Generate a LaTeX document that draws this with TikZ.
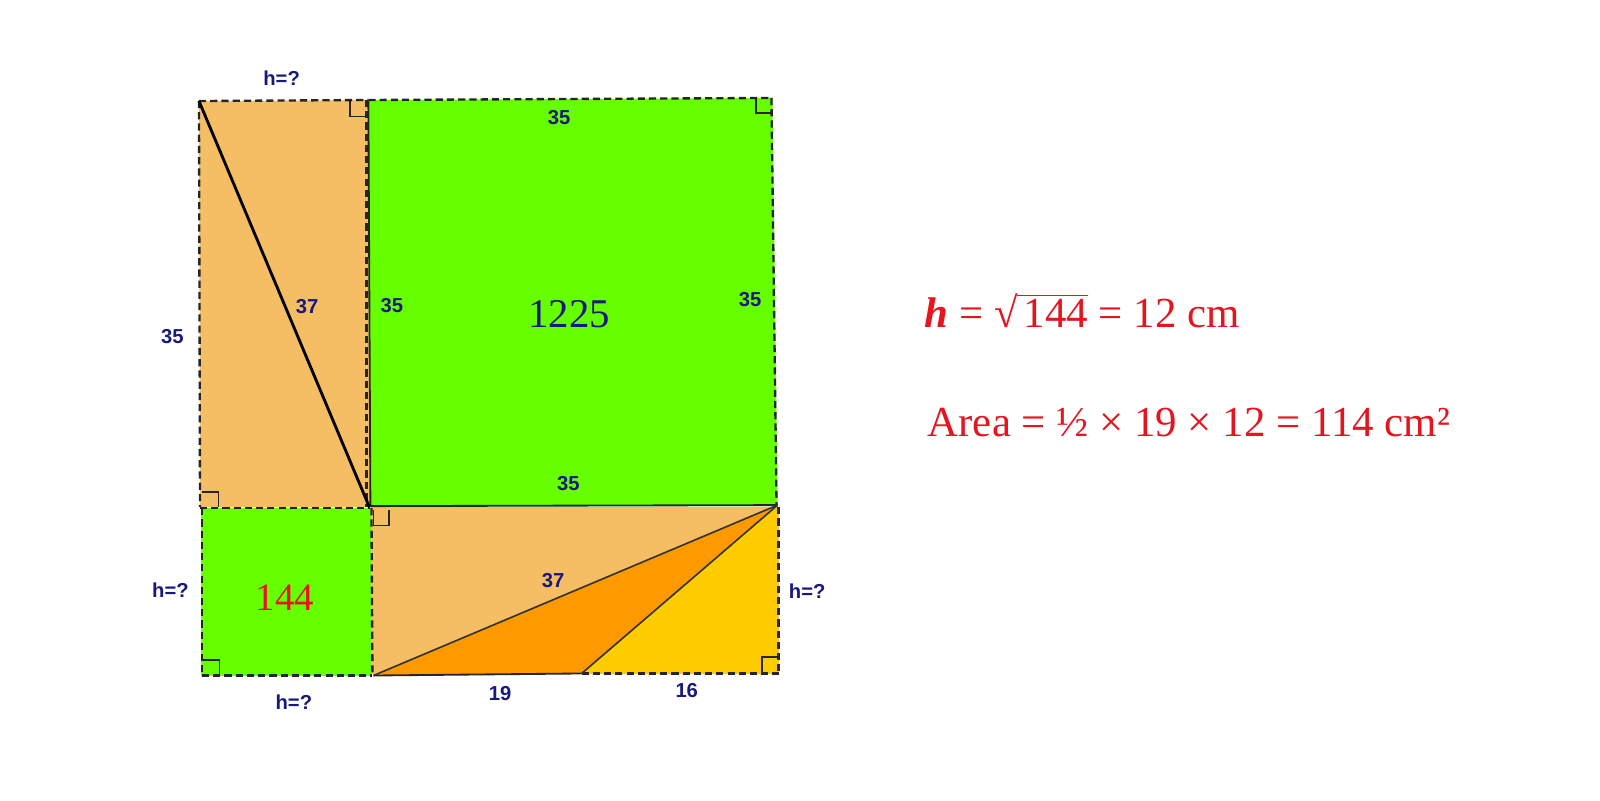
\documentclass[tikz,border=0pt]{standalone}
\usepackage{fontspec}
\setmainfont{Liberation Serif}
\newfontfamily\lblfont{Liberation Sans}
\definecolor{lorange}{RGB}{245,190,100}
\definecolor{dorange}{RGB}{255,153,0}
\definecolor{yel}{RGB}{255,204,0}
\definecolor{grn}{RGB}{102,255,0}
\definecolor{navy}{RGB}{25,25,125}
\definecolor{redtxt}{RGB}{230,20,30}
\tikzset{
  dashedge/.style={draw=black!85, line width=2.3pt, dash pattern=on 7pt off 4pt},
  solidedge/.style={draw=black!85, line width=1.8pt},
  ramark/.style={draw=black!85, line width=1.6pt},
  lbl/.style={font=\lblfont\bfseries\fontsize{19.8}{19.8}\selectfont, text=navy, inner sep=0pt},
  bignum/.style={font=\fontsize{40}{40}\selectfont, inner sep=0pt},
  eqn/.style={font=\fontsize{42}{42}\selectfont, text=redtxt, inner sep=0pt, anchor=base west}
}
\begin{document}
\begin{tikzpicture}[x=1pt,y=-1pt]
\useasboundingbox (0,0) rectangle (1568,784);
% fills
\fill[lorange] (195,99) -- (361,98) -- (362,497) -- (196,497) -- cycle;
\fill[grn] (361,98) -- (757,96) -- (762,496) -- (362,496) -- cycle;
\fill[grn] (197,498) rectangle (364,662);
\fill[lorange] (364,497) rectangle (763,661);
\fill[dorange] (366,662) -- (762,495) -- (570,660) -- cycle;
\fill[yel] (570,660) -- (762,495) -- (763,660) -- cycle;
% edges
\draw[dashedge] (195,99) -- (361,98);
\draw[dashedge] (195,99) -- (196,497);
\draw[dashedge] (359,98) -- (359,497);
\draw[dashedge] (361,98) -- (757,96);
\draw[dashedge] (756,96) -- (761,495);
\draw[solidedge] (361,496) -- (762,495);
\draw[solidedge] (361,98) -- (363,496);
\draw[dashedge] (196,498) -- (363,498);
\draw[dashedge] (198,498) -- (198,662);
\draw[dashedge] (198,662) -- (365,662);
\draw[dashedge] (364,498) -- (365,662);
\draw[dashedge] (763,497) -- (763,660);
\draw[dashedge] (570,660) -- (763,660);
\draw[solidedge] (366,662) -- (570,660);
\draw[line width=2.8pt, black] (195,99) -- (362,497);
\draw[line width=1.6pt, black!80] (366,662) -- (762,495);
\draw[line width=1.6pt, black!80] (570,660) -- (762,495);
% right-angle marks
\draw[ramark] (343,99) -- (343,114) -- (359,114);
\draw[ramark] (198,482) -- (214,482) -- (214,497);
\draw[ramark] (741,96) -- (741,111) -- (757,111);
\draw[ramark] (366,500) -- (366,515) -- (381,515) -- (381,500);
\draw[ramark] (199,647) -- (215,647) -- (215,662);
\draw[ramark] (747,660) -- (747,644) -- (763,644);
% labels
\node[lbl] (htop) at (276,77) {h=?};
\node[lbl] (s35l) at (169,330) {35};
\node[lbl] (d37a) at (301,300) {37};
\node[lbl] (s35i) at (384,299) {35};
\node[lbl] (s35t) at (548,115) {35};
\node[lbl] (s35r) at (735,294) {35};
\node[lbl] (s35b) at (557,474) {35};
\node[lbl] (hleft) at (167,578) {h=?};
\node[lbl] (hright) at (791,579) {h=?};
\node[lbl] (hbot) at (288,688) {h=?};
\node[lbl] (d37b) at (542,569) {37};
\node[lbl] (b19) at (490,680) {19};
\node[lbl] (b16) at (673,677) {16};
\node[bignum, text=navy] (a1225) at (558,308) {1225};
\node[bignum, text=redtxt, font=\fontsize{38}{38}\selectfont] (a144) at (279,586) {144};
% equations
\node[eqn] (eq1) at (906,321) {\textbf{\textit{h}} = √\kern-1pt\vbox{\hrule height 1.6pt\kern 3pt\hbox{\,144}} = 12 cm};
\node[eqn] (eq2) at (909,428) {Area = ½ × 19 × 12 = 114 cm²};
\end{tikzpicture}
\end{document}
